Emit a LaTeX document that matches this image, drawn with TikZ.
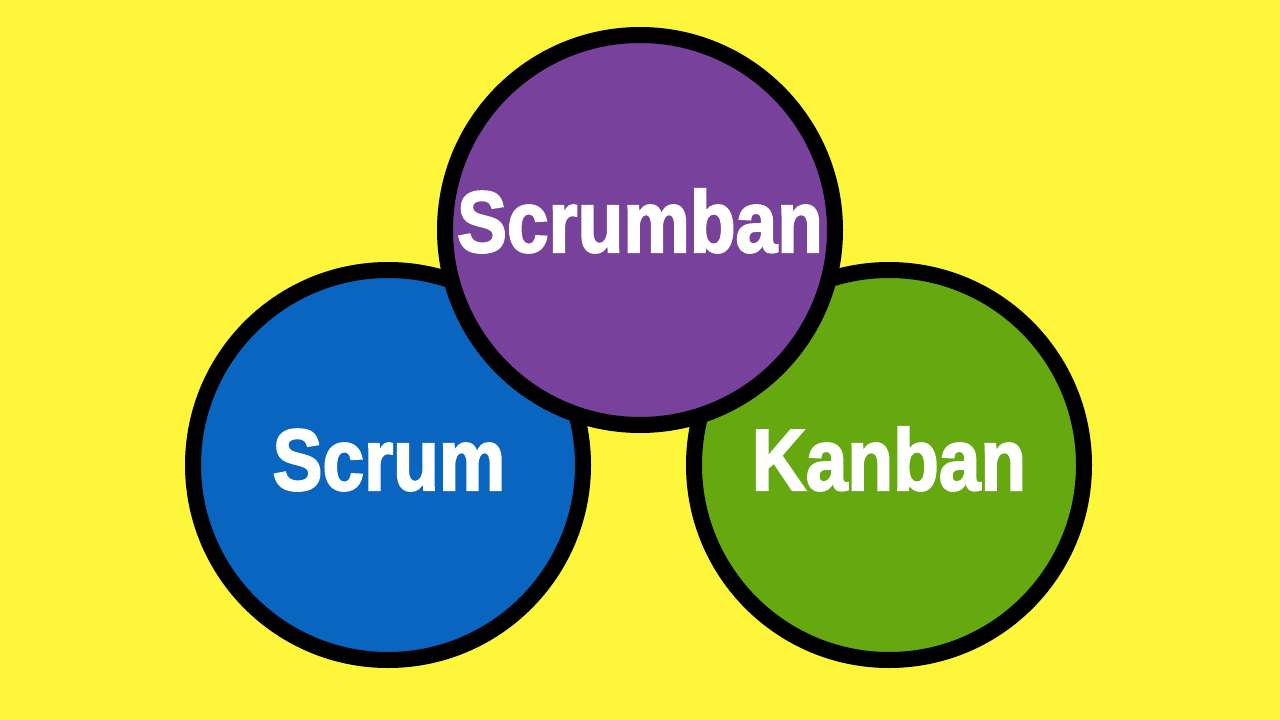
\documentclass[tikz,border=0pt]{standalone}
\usepackage{fontspec}
\setmainfont{Liberation Sans}[BoldFeatures={FakeBold=2.5}]
\definecolor{bgyellow}{RGB}{253,246,58}
\definecolor{cpurple}{RGB}{120,65,155}
\definecolor{cblue}{RGB}{10,101,192}
\definecolor{cgreen}{RGB}{102,168,16}
\tikzset{
  ring/.style={draw=black, line width=16pt},
  lbl/.style={text=white, font=\fontsize{87}{90}\selectfont\bfseries, anchor=base, inner sep=0pt, xscale=0.86}
}
\begin{document}
\begin{tikzpicture}[x=1pt,y=-1pt]
\fill[bgyellow] (0,0) rectangle (1280,720);
\useasboundingbox (0,0) rectangle (1280,720);
\path[ring, fill=cblue] (388,465) circle[radius=195] coordinate (cscrum);
\path[ring, fill=cgreen] (889,465) circle[radius=195] coordinate (ckanban);
\path[ring, fill=cpurple] (640,230) circle[radius=195] coordinate (cscrumban);
\node[lbl] (tscrumban) at (640,252) {Scrumban};
\node[lbl] (tscrum) at (389,490) {Scrum};
\node[lbl] (tkanban) at (889,490) {Kanban};
\end{tikzpicture}
\end{document}
